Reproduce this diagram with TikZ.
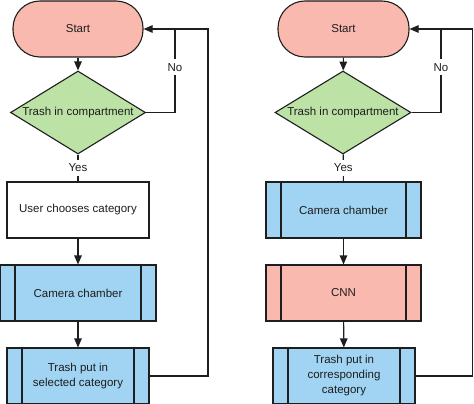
\documentclass[tikz,border=0pt]{standalone}
\usepackage{fontspec}
\setmainfont{Liberation Sans}
\usepackage{tikz}
\usetikzlibrary{shapes.geometric,arrows.meta}
\definecolor{startpink}{HTML}{F9B9AF}
\definecolor{askgreen}{HTML}{BCE2A6}
\definecolor{procblue}{HTML}{A0D4F2}
\definecolor{inkgrey}{HTML}{1E1E1E}

\begin{document}
\begin{tikzpicture}[x=1pt,y=-1pt, line width=1.1pt, color=inkgrey,
  every node/.style={font=\fontsize{11.5}{15}\selectfont, text=inkgrey, align=center},
  arr/.style={-{Triangle[length=9pt,width=7.5pt]}},
  startbox/.style={rectangle, rounded corners=27pt, draw, fill=startpink, minimum height=56pt},
  askbox/.style={diamond, aspect=1.63, draw, fill=askgreen, inner sep=0pt, minimum height=83pt},
  plainbox/.style={rectangle, draw, fill=white, minimum height=56pt},
  subproc/.style={rectangle, draw, fill=#1, minimum height=56pt,
    path picture={
      \draw ([xshift=15pt]path picture bounding box.north west) -- ([xshift=15pt]path picture bounding box.south west);
      \draw ([xshift=-15pt]path picture bounding box.north east) -- ([xshift=-15pt]path picture bounding box.south east);
    }},
  subproc/.default=procblue,
  lbl/.style={fill=white, inner xsep=1pt, inner ysep=4pt}]
\useasboundingbox (0,0) rectangle (474,404);
\clip (0,0) rectangle (474,404);

% left chart
\node[startbox, minimum width=130pt] (startL) at (78,29) {Start};
\node[askbox, minimum width=135pt] (askL) at (78,112.5) {Trash in compartment};
\node[plainbox, minimum width=142pt] (userL) at (78,210) {User chooses category};
\node[subproc, minimum width=156pt] (camL) at (78,293) {Camera chamber};
\node[subproc, minimum width=142pt] (trashL) at (78,376) {Trash put in\\selected category};
\coordinate (noL) at (175,29);
\coordinate (backL) at (208,29);

\draw[arr] (startL) -- (askL);
\draw (askL) -- node[lbl]{Yes} (userL);
\draw[arr] (userL) -- (camL);
\draw[arr] (camL) -- (trashL);
\draw (askL.east) -| node[lbl, pos=0.77]{No} (noL);
\draw[arr] (trashL.east) -| (backL) -- (startL.east);

% right chart
\node[startbox, minimum width=131pt] (startR) at (343.5,29) {Start};
\node[askbox, minimum width=136pt] (askR) at (343,112.5) {Trash in compartment};
\node[subproc, minimum width=155pt] (camR) at (343.5,210) {Camera chamber};
\node[subproc=startpink, minimum width=155pt] (cnnR) at (343.5,293) {CNN};
\node[subproc, minimum width=142pt] (trashR) at (344,376) {Trash put in\\corresponding\\category};
\coordinate (noR) at (441,29);
\coordinate (backR) at (472.5,29);

\draw[arr] (startR) -- (askR);
\draw (askR) -- node[lbl]{Yes} (camR);
\draw[arr] (camR) -- (cnnR);
\draw[arr] (cnnR) -- (trashR);
\draw (askR.east) -| node[lbl, pos=0.77]{No} (noR);
\draw[arr] (trashR.east) -| (backR) -- (startR.east);
\end{tikzpicture}
\end{document}
